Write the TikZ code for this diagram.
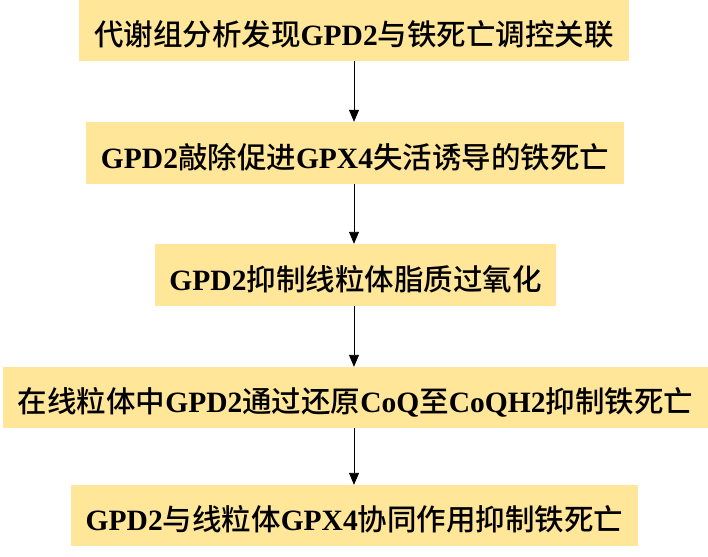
\documentclass[tikz,border=0pt]{standalone}
\usepackage{fontspec}
\usepackage{xcolor}
\usepackage{tikz}
\usetikzlibrary{arrows.meta}
\setmainfont{Liberation Serif}
\newfontfamily\cjk{Noto Sans CJK SC}[UprightFont={* Medium}]
\newcommand{\zh}[1]{{\cjk\mdseries #1}}
\definecolor{boxgold}{RGB}{255,230,153}
\tikzset{
  stage/.style={fill=boxgold, inner sep=0pt, text height=32pt, text depth=2pt,
    font=\fontsize{29.5}{32}\selectfont\bfseries},
  flow/.style={-{Triangle[length=12pt,width=10pt]}, line width=0.9pt}
}

\begin{document}
\begin{tikzpicture}[x=1pt,y=-1pt]
        \useasboundingbox (0,0) rectangle (708,556);

        \node[stage, minimum width=550pt, minimum height=61pt] (found) at (354,30.5)
          {\zh{代谢组分析发现}GPD2\zh{与铁死亡调控关联}};

        \node[stage, minimum width=538pt, minimum height=62pt] (knock) at (355,153)
          {GPD2\zh{敲除促进}GPX4\zh{失活诱导的铁死亡}};

        \node[stage, minimum width=401pt, minimum height=62pt] (perox) at (355.5,275)
          {GPD2\zh{抑制线粒体脂质过氧化}};

        \node[stage, minimum width=705pt, minimum height=61pt] (coq) at (355.5,397.5)
          {\zh{在线粒体中}GPD2\zh{通过还原}CoQ\zh{至}CoQH2\zh{抑制铁死亡}};

        \node[stage, minimum width=567pt, minimum height=61pt] (synergy) at (354.5,515.5)
          {GPD2\zh{与线粒体}GPX4\zh{协同作用抑制铁死亡}};

        \draw[flow] (found.south -| 354,0) -- (knock.north -| 354,0);
        \draw[flow] (knock.south -| 354,0) -- (perox.north -| 354,0);
        \draw[flow] (perox.south -| 354,0) -- (coq.north -| 354,0);
        \draw[flow] (coq.south -| 354,0) -- (synergy.north -| 354,0);
      \end{tikzpicture}
\end{document}
